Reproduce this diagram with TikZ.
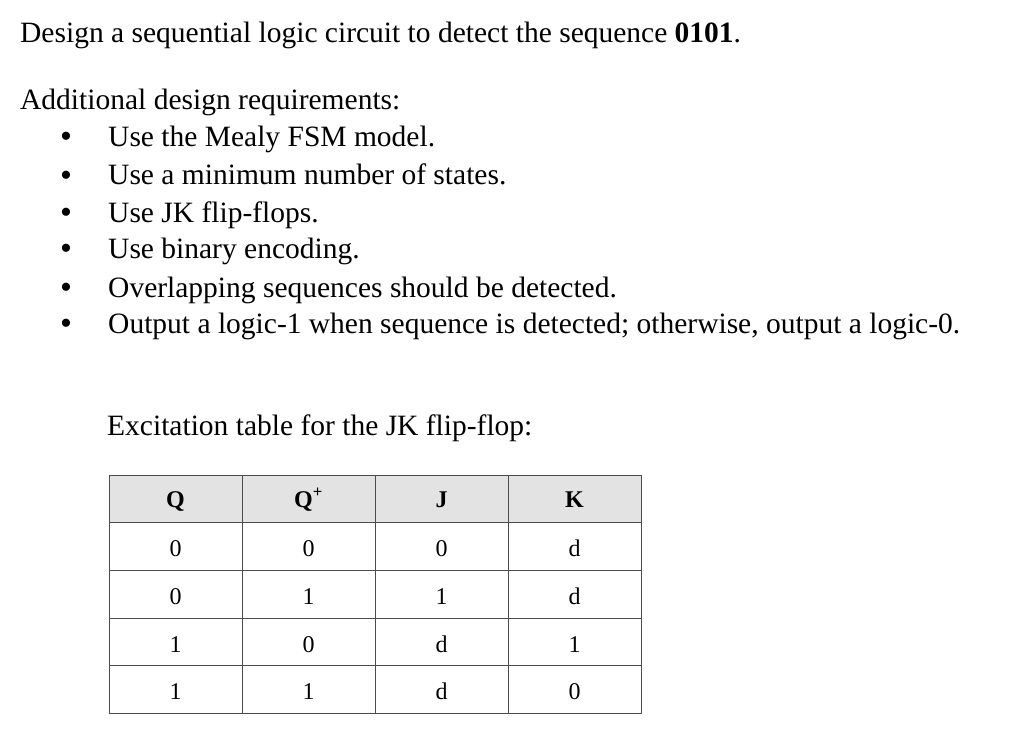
\documentclass[tikz,border=0pt]{standalone}
\usepackage{fontspec}
\setmainfont{Liberation Serif}
\begin{document}
\begin{tikzpicture}[x=1pt,y=-1pt,
  txt/.style={anchor=base west,inner sep=0pt,font=\fontsize{29.5}{32}\selectfont},
  bul/.style={anchor=base,inner sep=0pt,font=\fontsize{34}{34}\selectfont},
  cell/.style={anchor=base,inner sep=0pt,font=\fontsize{24}{26}\selectfont}]
\useasboundingbox (0,0) rectangle (1024,746);
\node[txt] (t1) at (20,43) {Design a sequential logic circuit to detect the sequence \textbf{0101}.};
\node[txt] (t2) at (20,110) {Additional design requirements:};
\foreach \y/\s [count=\i] in {137/Use the Mealy FSM model.,175/Use a minimum number of states.,212/Use JK flip-flops.,248/Use binary encoding.,287/Overlapping sequences should be detected.,323/{Output a logic-1 when sequence is detected; otherwise, output a logic-0.}}{
  \node[bul] (b\i) at (66,\y+11) {•};
  \node[txt] (l\i) at (108,\y+10) {\s};
}
\node[txt] (t3) at (107,435) {Excitation table for the JK flip-flop:};
\fill[gray!22] (109,475) rectangle (641,522);
\draw[line width=0.8pt,black!70] (109,475) rectangle (641,713);
\foreach \x in {242,375,508} \draw[line width=0.8pt,black!70] (\x,475) -- (\x,713);
\foreach \y in {522,570,618,665} \draw[line width=0.8pt,black!70] (109,\y) -- (641,\y);
\node[cell] (h1) at (175.5,507) {\textbf{Q}};
\node[cell] (h2) at (308.5,507) {\textbf{Q\textsuperscript{+}}};
\node[cell] (h3) at (441.5,507) {\textbf{J}};
\node[cell] (h4) at (574.5,507) {\textbf{K}};
\foreach \y/\a/\b/\c/\d [count=\r] in {556/0/0/0/d,604/0/1/1/d,652/1/0/d/1,699/1/1/d/0}{
  \node[cell] (c\r a) at (175.5,\y) {\a};
  \node[cell] (c\r b) at (308.5,\y) {\b};
  \node[cell] (c\r c) at (441.5,\y) {\c};
  \node[cell] (c\r d) at (574.5,\y) {\d};
}
\end{tikzpicture}
\end{document}
